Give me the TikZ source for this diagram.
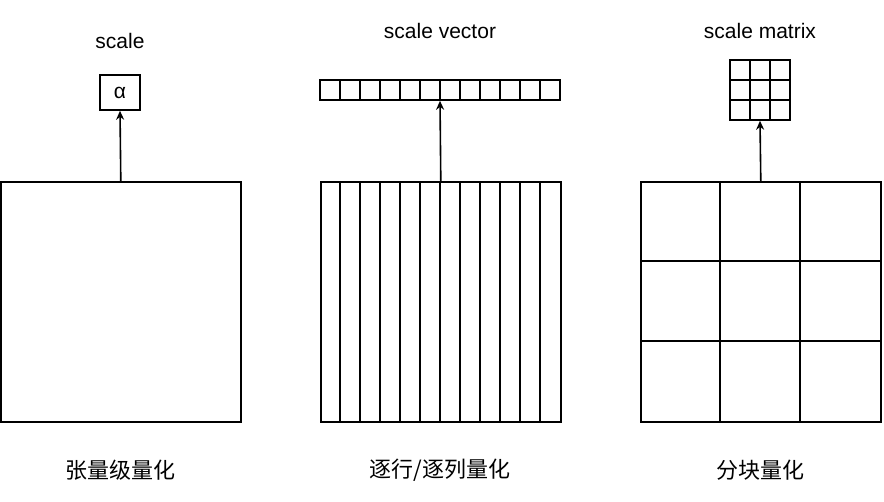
\documentclass[tikz,border=0pt]{standalone}
\usepackage{fontspec}
\setmainfont{Liberation Sans}
\newfontfamily\cjk{Noto Sans CJK SC}
\usetikzlibrary{positioning,arrows.meta}
\begin{document}
\begin{tikzpicture}[->, >={Stealth[length=9pt,width=8pt]}, x=1pt, y=-1pt, line width=1.6pt,
        font=\fontsize{21}{24}\selectfont]
        \tikzset{big/.style={draw, minimum size=240pt, inner sep=0pt, anchor=north west},
                 lab/.style={font=\fontsize{22}{26}\selectfont\cjk}}
        \useasboundingbox (0,0) rectangle (884,502);
        % big blocks
        \node[big] (T) at (0,181) {};
        \node[big] (R) at (320,181) {};
        \node[big] (B) at (640,181) {};
        \foreach \i in {1,...,11} \draw[-] (320+20*\i,181) -- (320+20*\i,421);
        \foreach \i in {1,2} {
            \draw[-] (640+80*\i,181) -- (640+80*\i,421);
            \draw[-] (640,181+80*\i) -- (880,181+80*\i);
        }
        % scales
        \node[draw, minimum width=40pt, minimum height=35pt, inner sep=0pt] (a) at (120,92.5) {α};
        \node[draw, minimum width=240pt, minimum height=20pt, inner sep=0pt] (v) at (440,90) {};
        \foreach \i in {1,...,11} \draw[-] (320+20*\i,80) -- (320+20*\i,100);
        \node[draw, minimum size=60pt, inner sep=0pt] (m) at (760,90) {};
        \foreach \i in {1,2} {
            \draw[-] (730+20*\i,60) -- (730+20*\i,120);
            \draw[-] (730,60+20*\i) -- (790,60+20*\i);
        }
        \node (sa) at (120,41) {scale};
        \node (sv) at (440,31) {scale vector};
        \node (sm) at (760,31) {scale matrix};
        \draw (T.north) -- (a.south);
        \draw (R.north) -- (v.south);
        \draw (B.north) -- (m.south);
        % labels
        \node[lab] (lt) at (120,470) {张量级量化};
        \node[lab] (lr) at (440,470) {逐行/逐列量化};
        \node[lab] (lb) at (760,470) {分块量化};
\end{tikzpicture}
\end{document}
